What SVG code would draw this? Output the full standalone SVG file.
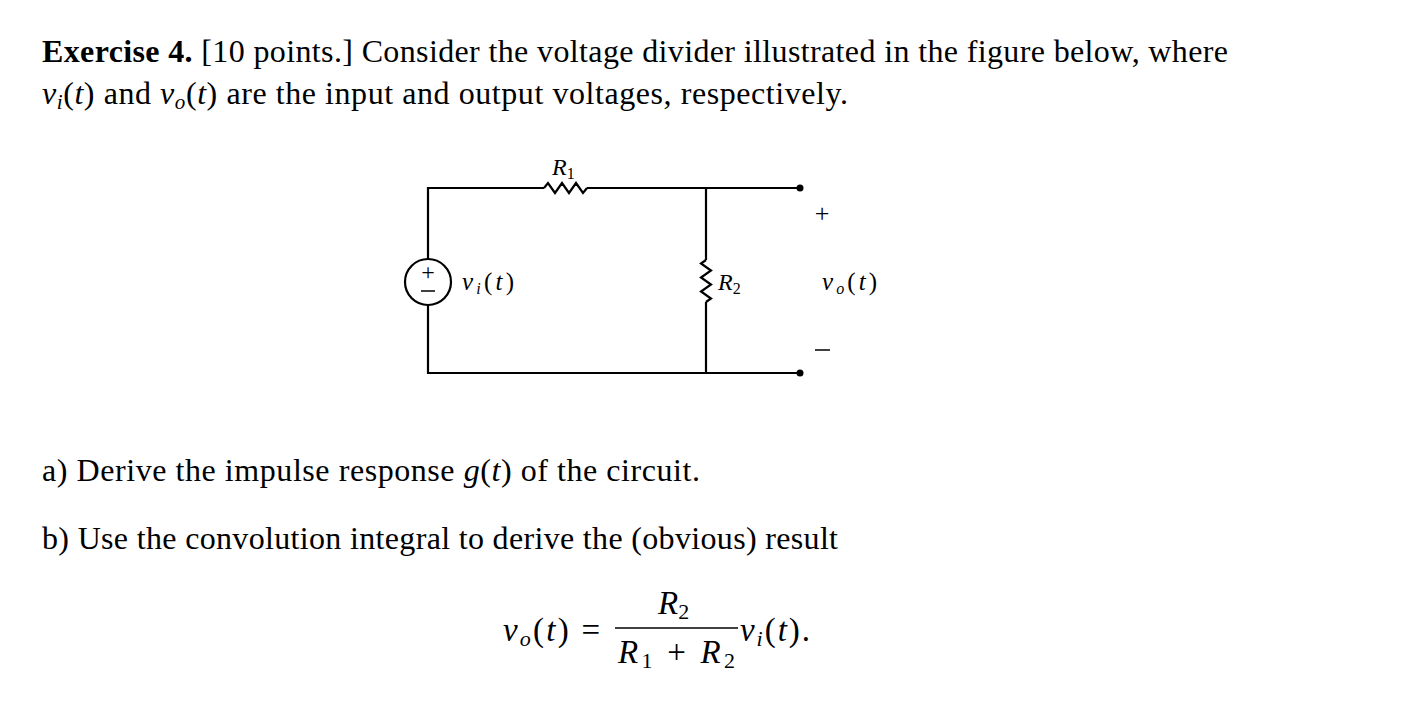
<svg xmlns="http://www.w3.org/2000/svg" width="1406" height="722" viewBox="0 0 1406 722">
<style>
text{font-family:"Liberation Serif","DejaVu Serif",serif;fill:#000}
.t{font-size:32px}
.m{font-style:italic}
.w{fill:none;stroke:#000;stroke-width:2.2}
</style>
<rect width="1406" height="722" fill="#fff"/>
<text class="t" x="42" y="62" textLength="1186" lengthAdjust="spacing"><tspan font-weight="bold">Exercise 4.</tspan> [10 points.] Consider the voltage divider illustrated in the figure below, where</text>
<text class="t" x="42" y="104" textLength="806" lengthAdjust="spacing"><tspan class="m">v</tspan><tspan class="m" font-size="21" dy="5">i</tspan><tspan dy="-5">(</tspan><tspan class="m">t</tspan>) and <tspan class="m">v</tspan><tspan class="m" font-size="21" dy="5">o</tspan><tspan dy="-5">(</tspan><tspan class="m">t</tspan>) are the input and output voltages, respectively.</text>
<g id="connectors">
<path class="w" d="M544 188 H428 V259 M428 305 V373 H800 M587 188 H800 M706 188 V260 M706 302 V373"/>
<circle cx="800" cy="188" r="3.5"/><circle cx="800" cy="373" r="3.5"/>
</g>
<g id="R1"><path class="w" d="M544 188 l4 -5 l7 10 l7 -10 l7 10 l7 -10 l7 10 l4 -5"/>
<text x="552" y="175" font-size="24" class="m">R<tspan font-size="16" dy="4" font-style="normal">1</tspan></text></g>
<g id="R2"><path class="w" d="M706 260 l-5 3.5 l10 7 l-10 7 l10 7 l-10 7 l10 7 l-5 3.5"/>
<text x="718" y="290" font-size="24" class="m">R<tspan font-size="16" dy="4" font-style="normal">2</tspan></text></g>
<g id="source"><circle class="w" cx="428" cy="282" r="23"/>
<text x="428" y="280" font-size="24" text-anchor="middle">+</text>
<line x1="421" y1="291" x2="435" y2="291" stroke="#000" stroke-width="1.5"/>
<text x="462" y="290" font-size="25" textLength="52" lengthAdjust="spacing"><tspan class="m">v</tspan><tspan class="m" font-size="16" dy="4">i</tspan><tspan dy="-4">(</tspan><tspan class="m">t</tspan>)</text></g>
<g id="vo"><text x="822" y="222" font-size="26" text-anchor="middle">+</text>
<text x="822" y="290" font-size="25" class="m" textLength="55" lengthAdjust="spacing">v<tspan font-size="16" dy="4">o</tspan><tspan dy="-4" font-style="normal">(</tspan>t<tspan font-style="normal">)</tspan></text>
<line x1="815" y1="350" x2="830" y2="350" stroke="#000" stroke-width="1.5"/></g>
<text class="t" x="42" y="481" textLength="658" lengthAdjust="spacing">a)  Derive the impulse response <tspan class="m">g</tspan>(<tspan class="m">t</tspan>) of the circuit.</text>
<text class="t" x="42" y="549" textLength="796" lengthAdjust="spacing">b)  Use the convolution integral to derive the (obvious) result</text>
<g font-size="33">
<text x="503" y="641" textLength="97" lengthAdjust="spacing"><tspan class="m">v</tspan><tspan class="m" font-size="22" dy="5">o</tspan><tspan dy="-5">(</tspan><tspan class="m">t</tspan>)  =</text>
<text x="658" y="614"><tspan class="m">R</tspan><tspan font-size="22" dy="5">2</tspan></text>
<line x1="615" y1="628" x2="738" y2="628" stroke="#000" stroke-width="1.3"/>
<text x="618" y="663" textLength="117" lengthAdjust="spacing"><tspan class="m">R</tspan><tspan font-size="22" dy="5">1</tspan><tspan dy="-5"> + </tspan><tspan class="m">R</tspan><tspan font-size="22" dy="5">2</tspan></text>
<text x="740" y="641" textLength="70" lengthAdjust="spacing"><tspan class="m">v</tspan><tspan class="m" font-size="22" dy="5">i</tspan><tspan dy="-5">(</tspan><tspan class="m">t</tspan>).</text>
</g>
</svg>
